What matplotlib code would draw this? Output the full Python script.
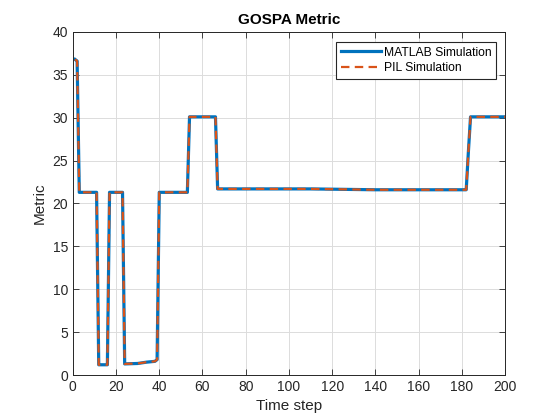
import matplotlib
matplotlib.use('Agg')
import matplotlib.pyplot as plt
import numpy as np

# breakpoints (time step, metric)
t_matlab = [1, 2, 3, 11, 12, 16, 17, 23, 24, 30, 34, 38, 39, 40, 53, 54, 66, 67, 90, 110, 140, 160, 182, 183, 184, 200]
v_matlab = [36.8, 36.6, 21.3, 21.3, 1.2, 1.2, 21.3, 21.3, 1.3, 1.35, 1.5, 1.6, 1.8, 21.3, 21.3, 30.1, 30.1, 21.7, 21.7, 21.7, 21.6, 21.6, 21.6, 26.0, 30.1, 30.1]
t_pil = t_matlab
v_pil = v_matlab

plt.rcParams['font.family'] = ['Liberation Sans', 'DejaVu Sans']
fig = plt.figure(figsize=(5.6, 4.2), dpi=100)
ax = fig.add_axes([0.13, 0.107, 0.772, 0.817])

ax.plot(t_matlab, v_matlab, color='#0072BD', lw=2.3, label='MATLAB Simulation')
ax.plot(t_pil, v_pil, color='#D95319', lw=1.6, ls=(0, (3.8, 2.4)), label='PIL Simulation')

ax.set_xlim(0, 200)
ax.set_ylim(0, 40)
ax.set_xticks(np.arange(0, 201, 20))
ax.set_yticks(np.arange(0, 41, 5))
ax.grid(True, color='#dcdcdc', lw=0.7)
ax.set_axisbelow(True)
ax.tick_params(direction='in', top=True, right=True, labelsize=10, colors='#262626', length=4, width=0.6)
for s in ax.spines.values():
    s.set_color('#262626')
    s.set_linewidth(0.7)

ax.set_xlabel('Time step', fontsize=11, color='#262626')
ax.set_ylabel('Metric', fontsize=11, color='#262626')
ax.set_title('GOSPA Metric', fontsize=11, fontweight='bold')

leg = ax.legend(loc='upper right', fontsize=8.7, fancybox=False, framealpha=1, edgecolor='#262626',
                handlelength=3.3, borderpad=0.4, labelspacing=0.3, handletextpad=0.25,
                borderaxespad=0, bbox_to_anchor=(0.979, 0.971))
leg.get_frame().set_linewidth(0.8)

fig.savefig('out.png', dpi=100)
